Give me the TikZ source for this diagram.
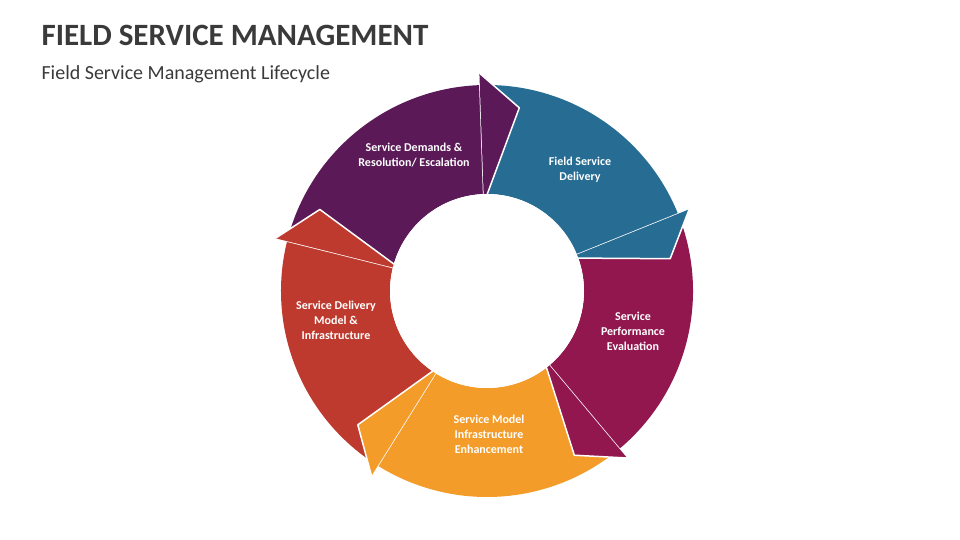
\documentclass[tikz,border=0pt]{standalone}
\usepackage{fontspec}
\setmainfont{Carlito}
\definecolor{cblue}{HTML}{266C93}
\definecolor{cmag}{HTML}{92174F}
\definecolor{corange}{HTML}{F39C2A}
\definecolor{cred}{HTML}{BE3A2E}
\definecolor{cpurp}{HTML}{5B1A57}
\definecolor{ctitle}{HTML}{3A3A3A}
\tikzset{lbl/.style={text=white,font=\bfseries\fontsize{12}{15}\selectfont,align=center}}
\newcommand{\segbody}[3]{\fill[#1] (#2:206) arc[start angle=#2,end angle=#3,radius=206] -- (#3:97) arc[start angle=#3,end angle=#2,radius=97] -- cycle;}
\newcommand{\seghead}[3]{\fill[#1] (#2:204) -- (#2:218) -- (#3:186) -- (#2:88) -- (#2:99) -- cycle;
\draw[white,line width=1.5pt,line join=round] (#2:218) -- (#3:186) -- (#2:88);}
\begin{document}
\begin{tikzpicture}[x=1pt,y=1pt]
\useasboundingbox (0,0) rectangle (960,540);
\node[anchor=west,text=ctitle,font=\bfseries\fontsize{31}{36}\selectfont] (title) at (38,505) {FIELD SERVICE MANAGEMENT};
\node[anchor=west,text=ctitle,font=\fontsize{20}{24}\selectfont] (sub) at (38,466) {Field Service Management Lifecycle};
\begin{scope}[shift={(487,249)}]
\segbody{cblue}{92}{22}
\segbody{cmag}{22}{-50}
\segbody{corange}{-50}{-122}
\segbody{cred}{-122}{-194}
\segbody{cpurp}{166}{92}
\draw[white,line width=1.5pt] (92:95)--(92:208) (22:95)--(22:208) (-50:95)--(-50:208) (-122:95)--(-122:208) (166:95)--(166:208);
\seghead{cblue}{22}{10}
\seghead{cmag}{-50}{-62}
\seghead{corange}{-122}{-134}
\seghead{cred}{166}{154}
\seghead{cpurp}{92}{80}
\fill[white] (0,0) circle[radius=97];
\end{scope}
\node[lbl] (n1) at (580,370) {Field Service\\Delivery};
\node[lbl] (n2) at (633,209) {Service\\Performance\\Evaluation};
\node[lbl] (n3) at (489,106) {Service Model\\Infrastructure\\Enhancement};
\node[lbl] (n4) at (336,220) {Service Delivery\\Model \&\\Infrastructure};
\node[lbl] (n5) at (414,385) {Service Demands \&\\Resolution/ Escalation};
\end{tikzpicture}
\end{document}
